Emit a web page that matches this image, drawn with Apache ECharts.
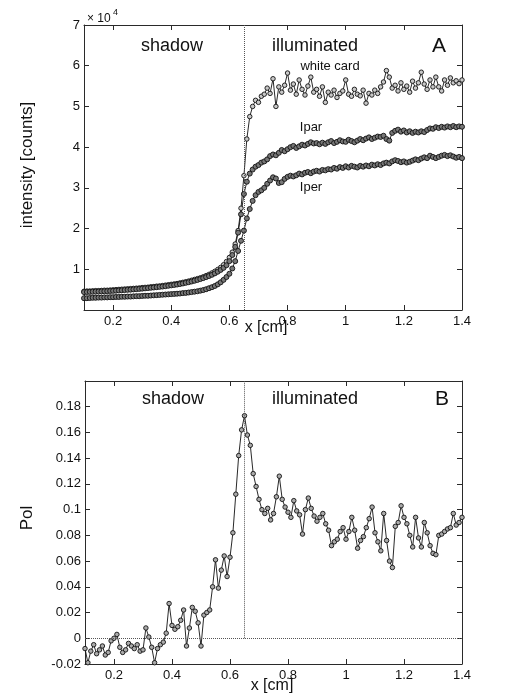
<!DOCTYPE html>
<html>
<head>
<meta charset="utf-8">
<script src="https://cdn.jsdelivr.net/npm/echarts@6/dist/echarts.min.js"></script>
<style>
html,body{margin:0;padding:0;background:#fff;}
#chart{width:510px;height:699px;}
</style>
</head>
<body>
<div id="chart"></div>
<script>
// ---- data ----
const xCm = [0.10,0.11,0.12,0.13,0.14,0.15,0.16,0.17,0.18,0.19,
0.20,0.21,0.22,0.23,0.24,0.25,0.26,0.27,0.28,0.29,
0.30,0.31,0.32,0.33,0.34,0.35,0.36,0.37,0.38,0.39,
0.40,0.41,0.42,0.43,0.44,0.45,0.46,0.47,0.48,0.49,
0.50,0.51,0.52,0.53,0.54,0.55,0.56,0.57,0.58,0.59,
0.60,0.61,0.62,0.63,0.64,0.65,0.66,0.67,0.68,0.69,
0.70,0.71,0.72,0.73,0.74,0.75,0.76,0.77,0.78,0.79,
0.80,0.81,0.82,0.83,0.84,0.85,0.86,0.87,0.88,0.89,
0.90,0.91,0.92,0.93,0.94,0.95,0.96,0.97,0.98,0.99,
1.00,1.01,1.02,1.03,1.04,1.05,1.06,1.07,1.08,1.09,
1.10,1.11,1.12,1.13,1.14,1.15,1.16,1.17,1.18,1.19,
1.20,1.21,1.22,1.23,1.24,1.25,1.26,1.27,1.28,1.29,
1.30,1.31,1.32,1.33,1.34,1.35,1.36,1.37,1.38,1.39,1.40];

const whiteCard = [4600,4650,4650,4700,4750,4750,4800,4850,4850,4900,
4950,5000,5050,5100,5150,5200,5250,5300,5350,5400,
5500,5550,5600,5700,5750,5850,5900,6000,6100,6200,
6300,6400,6500,6650,6800,6950,7100,7300,7500,7700,
7900,8150,8450,8750,9100,9500,9950,10450,11100,11900,
12900,14200,16200,19500,25000,33000,42000,47500,50000,51500,
51000,52500,53000,54500,53200,56800,50000,54800,53500,55200,
58200,54000,55500,53000,56500,54200,52800,55000,57200,53500,
54200,52500,54800,51000,53500,52800,54000,52200,53200,53800,
56500,53000,52500,54200,53000,52600,54000,50800,53200,52800,
54000,53200,54800,56000,58800,57200,54500,55200,53800,55800,
54200,55000,53500,56200,54500,55800,58400,55500,54200,56500,
54800,57200,54800,53800,56500,55200,57000,55800,56300,55600,56500];

const iPar = [4400,4420,4450,4480,4500,4530,4560,4600,4630,4670,
4700,4750,4800,4850,4900,4950,5000,5060,5120,5180,
5250,5320,5390,5460,5530,5600,5680,5760,5850,5950,
6050,6150,6250,6380,6520,6670,6830,7000,7180,7380,
7600,7830,8080,8350,8650,9000,9400,9850,10350,11000,
12000,13500,15500,19000,23500,28500,31500,33500,34500,35200,
35600,36200,36500,37000,37800,38200,38000,38600,39300,39000,
39500,40000,40300,39800,40200,40600,40400,40800,41200,40900,
41000,40700,41100,40800,41200,41500,41000,41300,41700,41400,
41300,41800,41500,41200,41600,42000,41700,42100,42400,42000,
42300,42600,42500,42800,42000,41600,43500,44000,44300,43800,
44100,43600,43900,43500,43800,43600,43900,43700,44200,44600,
44500,44900,44700,45000,44800,45100,44900,45200,44900,45100,45000];

const iPer = [2900,2900,2950,3000,3000,3050,3050,3100,3100,3150,
3150,3200,3200,3250,3250,3300,3300,3350,3400,3400,
3450,3500,3500,3550,3600,3650,3700,3750,3800,3850,
3900,3950,4000,4050,4150,4200,4300,4400,4500,4600,
4750,4900,5100,5350,5600,5900,6300,6800,7400,8100,
8900,10200,12000,14500,17000,19500,22500,24800,26800,28200,
29000,29400,30000,31000,31800,32600,32300,31200,31400,32200,
32700,33000,32800,33100,33500,33300,33700,33900,33600,34000,
34200,34000,34400,34300,34600,34500,34900,34700,35100,34900,
35300,35000,35400,35200,35000,35400,35200,35500,35300,35700,
35500,35800,35600,36000,36200,36000,36500,36800,36600,36300,
36500,36200,36400,36700,37000,36800,37200,37500,37300,37900,
37600,37300,37600,37900,38100,37800,38000,37700,37400,37600,37300];

const pol = [-0.008,-0.019,-0.010,-0.005,-0.012,-0.009,-0.006,-0.013,-0.011,-0.002,
0.000,0.003,-0.007,-0.011,-0.009,-0.004,-0.006,-0.008,-0.005,-0.010,
-0.009,0.008,0.001,-0.007,-0.019,-0.008,-0.005,-0.003,0.004,0.027,
0.010,0.007,0.009,0.014,0.022,-0.006,0.008,0.024,0.021,0.012,
-0.006,0.018,0.020,0.022,0.040,0.061,0.039,0.053,0.064,0.048,
0.063,0.082,0.112,0.142,0.162,0.173,0.158,0.150,0.128,0.118,
0.108,0.100,0.097,0.101,0.092,0.097,0.110,0.126,0.108,0.102,
0.098,0.094,0.107,0.099,0.096,0.081,0.100,0.109,0.101,0.095,
0.091,0.094,0.097,0.089,0.084,0.072,0.075,0.077,0.083,0.086,
0.077,0.083,0.094,0.084,0.070,0.076,0.079,0.086,0.093,0.102,
0.082,0.075,0.068,0.097,0.076,0.060,0.055,0.087,0.090,0.103,
0.094,0.089,0.080,0.071,0.094,0.078,0.071,0.090,0.082,0.072,
0.066,0.065,0.080,0.081,0.083,0.085,0.086,0.097,0.088,0.090,0.094];

const xTicks = [0.2,0.4,0.6,0.8,1,1.2,1.4];
const intensityTicks = [0,10000,20000,30000,40000,50000,60000,70000];
const polTicks = [-0.02,0,0.02,0.04,0.06,0.08,0.1,0.12,0.14,0.16,0.18];
const boundaryX = 0.65;

// ---- chart ----
const FONT = "'Liberation Sans', Arial, Helvetica, sans-serif";
const AX = '#2a2a2a';
const chart = echarts.init(document.getElementById('chart'), null, {renderer:'canvas'});

function fmtNum(v){ return String(Math.round(v*100)/100); }

function xAxisDef(grid, pos, showLabel){
  return {
    type:'value', gridIndex:grid, position:pos, min:0.1, max:1.4,
    axisLine:{show:true, onZero:false, lineStyle:{color:AX, width:1}},
    axisTick:{show:true, inside:true, length:5, customValues:xTicks, lineStyle:{color:AX}},
    axisLabel:{show:showLabel, customValues:xTicks, formatter:fmtNum, fontFamily:FONT, fontSize:13, color:'#111', margin:5},
    splitLine:{show:false}
  };
}
function yAxisDef(grid, pos, showLabel, min, max, ticks, fmt){
  return {
    type:'value', gridIndex:grid, position:pos, min:min, max:max,
    axisLine:{show:true, onZero:false, lineStyle:{color:AX, width:1}},
    axisTick:{show:true, inside:true, length:5, customValues:ticks, lineStyle:{color:AX}},
    axisLabel:{show:showLabel, customValues:ticks, formatter:fmt, fontFamily:FONT, fontSize:13, color:'#111', margin:4},
    splitLine:{show:false}
  };
}

const lineStyle = {color:'#111', width:0.9};
function series(xi, yi, vals, fill, size, extra){
  return Object.assign({
    type:'line', xAxisIndex:xi, yAxisIndex:yi,
    data: xCm.map((x,i)=>[x, vals[i]]),
    symbol:'circle', symbolSize:size, showSymbol:true,
    itemStyle:{color:fill, borderColor:'#111', borderWidth:0.9}, lineStyle:lineStyle,
    animation:false, silent:true, z:3
  }, extra||{});
}
const dotted = {type:'dotted', color:'#555', width:1};

const option = {
  backgroundColor:'#fff',
  animation:false,
  grid:[
    {left:84, top:25, width:378, height:285},
    {left:85, top:381, width:377, height:283}
  ],
  xAxis:[
    xAxisDef(0,'bottom',true), xAxisDef(0,'top',false),
    xAxisDef(1,'bottom',true), xAxisDef(1,'top',false)
  ],
  yAxis:[
    yAxisDef(0,'left',true,0,70000,intensityTicks,v=> v===0 ? '' : String(Math.round(v/10000))),
    yAxisDef(0,'right',false,0,70000,intensityTicks,null),
    yAxisDef(1,'left',true,-0.02,0.2,polTicks,fmtNum),
    yAxisDef(1,'right',false,-0.02,0.2,polTicks,null)
  ],
  series:[
    series(0,0,whiteCard,'#c8c8c8',4.5,{markLine:{silent:true, symbol:['none','none'], label:{show:false}, lineStyle:dotted, data:[{xAxis:boundaryX}]}}),
    series(0,0,iPar,'#777',5),
    series(0,0,iPer,'#777',5),
    series(2,2,pol,'#aaa',4.5,{markLine:{silent:true, symbol:['none','none'], label:{show:false}, lineStyle:dotted,
      data:[ {yAxis:0}, [{coord:[boundaryX,0]},{coord:[boundaryX,0.2]}] ]}})
  ],
  graphic:[
    {type:'text', x:87, y:19, style:{text:'× 10', font:'12px '+FONT, fill:'#111', textAlign:'left', textVerticalAlign:'middle'}},
    {type:'text', x:113, y:13, style:{text:'4', font:'9px '+FONT, fill:'#111', textAlign:'left', textVerticalAlign:'middle'}},
    {type:'text', x:172, y:46, style:{text:'shadow', font:'18px '+FONT, fill:'#111', textAlign:'center', textVerticalAlign:'middle'}},
    {type:'text', x:315, y:46, style:{text:'illuminated', font:'18px '+FONT, fill:'#111', textAlign:'center', textVerticalAlign:'middle'}},
    {type:'text', x:439, y:46, style:{text:'A', font:'21px '+FONT, fill:'#111', textAlign:'center', textVerticalAlign:'middle'}},
    {type:'text', x:330, y:66, style:{text:'white card', font:'13px '+FONT, fill:'#111', textAlign:'center', textVerticalAlign:'middle'}},
    {type:'text', x:311, y:127, style:{text:'Ipar', font:'13px '+FONT, fill:'#111', textAlign:'center', textVerticalAlign:'middle'}},
    {type:'text', x:311, y:187, style:{text:'Iper', font:'13px '+FONT, fill:'#111', textAlign:'center', textVerticalAlign:'middle'}},
    {type:'text', x:27, y:165, rotation:Math.PI/2, style:{text:'intensity [counts]', font:'17px '+FONT, fill:'#111', textAlign:'center', textVerticalAlign:'middle'}},
    {type:'text', x:266, y:328, style:{text:'x [cm]', font:'16px '+FONT, fill:'#111', textAlign:'center', textVerticalAlign:'middle'}},
    {type:'text', x:173, y:399, style:{text:'shadow', font:'18px '+FONT, fill:'#111', textAlign:'center', textVerticalAlign:'middle'}},
    {type:'text', x:315, y:399, style:{text:'illuminated', font:'18px '+FONT, fill:'#111', textAlign:'center', textVerticalAlign:'middle'}},
    {type:'text', x:442, y:399, style:{text:'B', font:'21px '+FONT, fill:'#111', textAlign:'center', textVerticalAlign:'middle'}},
    {type:'text', x:27, y:518, rotation:Math.PI/2, style:{text:'Pol', font:'17px '+FONT, fill:'#111', textAlign:'center', textVerticalAlign:'middle'}},
    {type:'text', x:272, y:686, style:{text:'x [cm]', font:'16px '+FONT, fill:'#111', textAlign:'center', textVerticalAlign:'middle'}}
  ]
};
chart.setOption(option);
</script>
</body>
</html>
